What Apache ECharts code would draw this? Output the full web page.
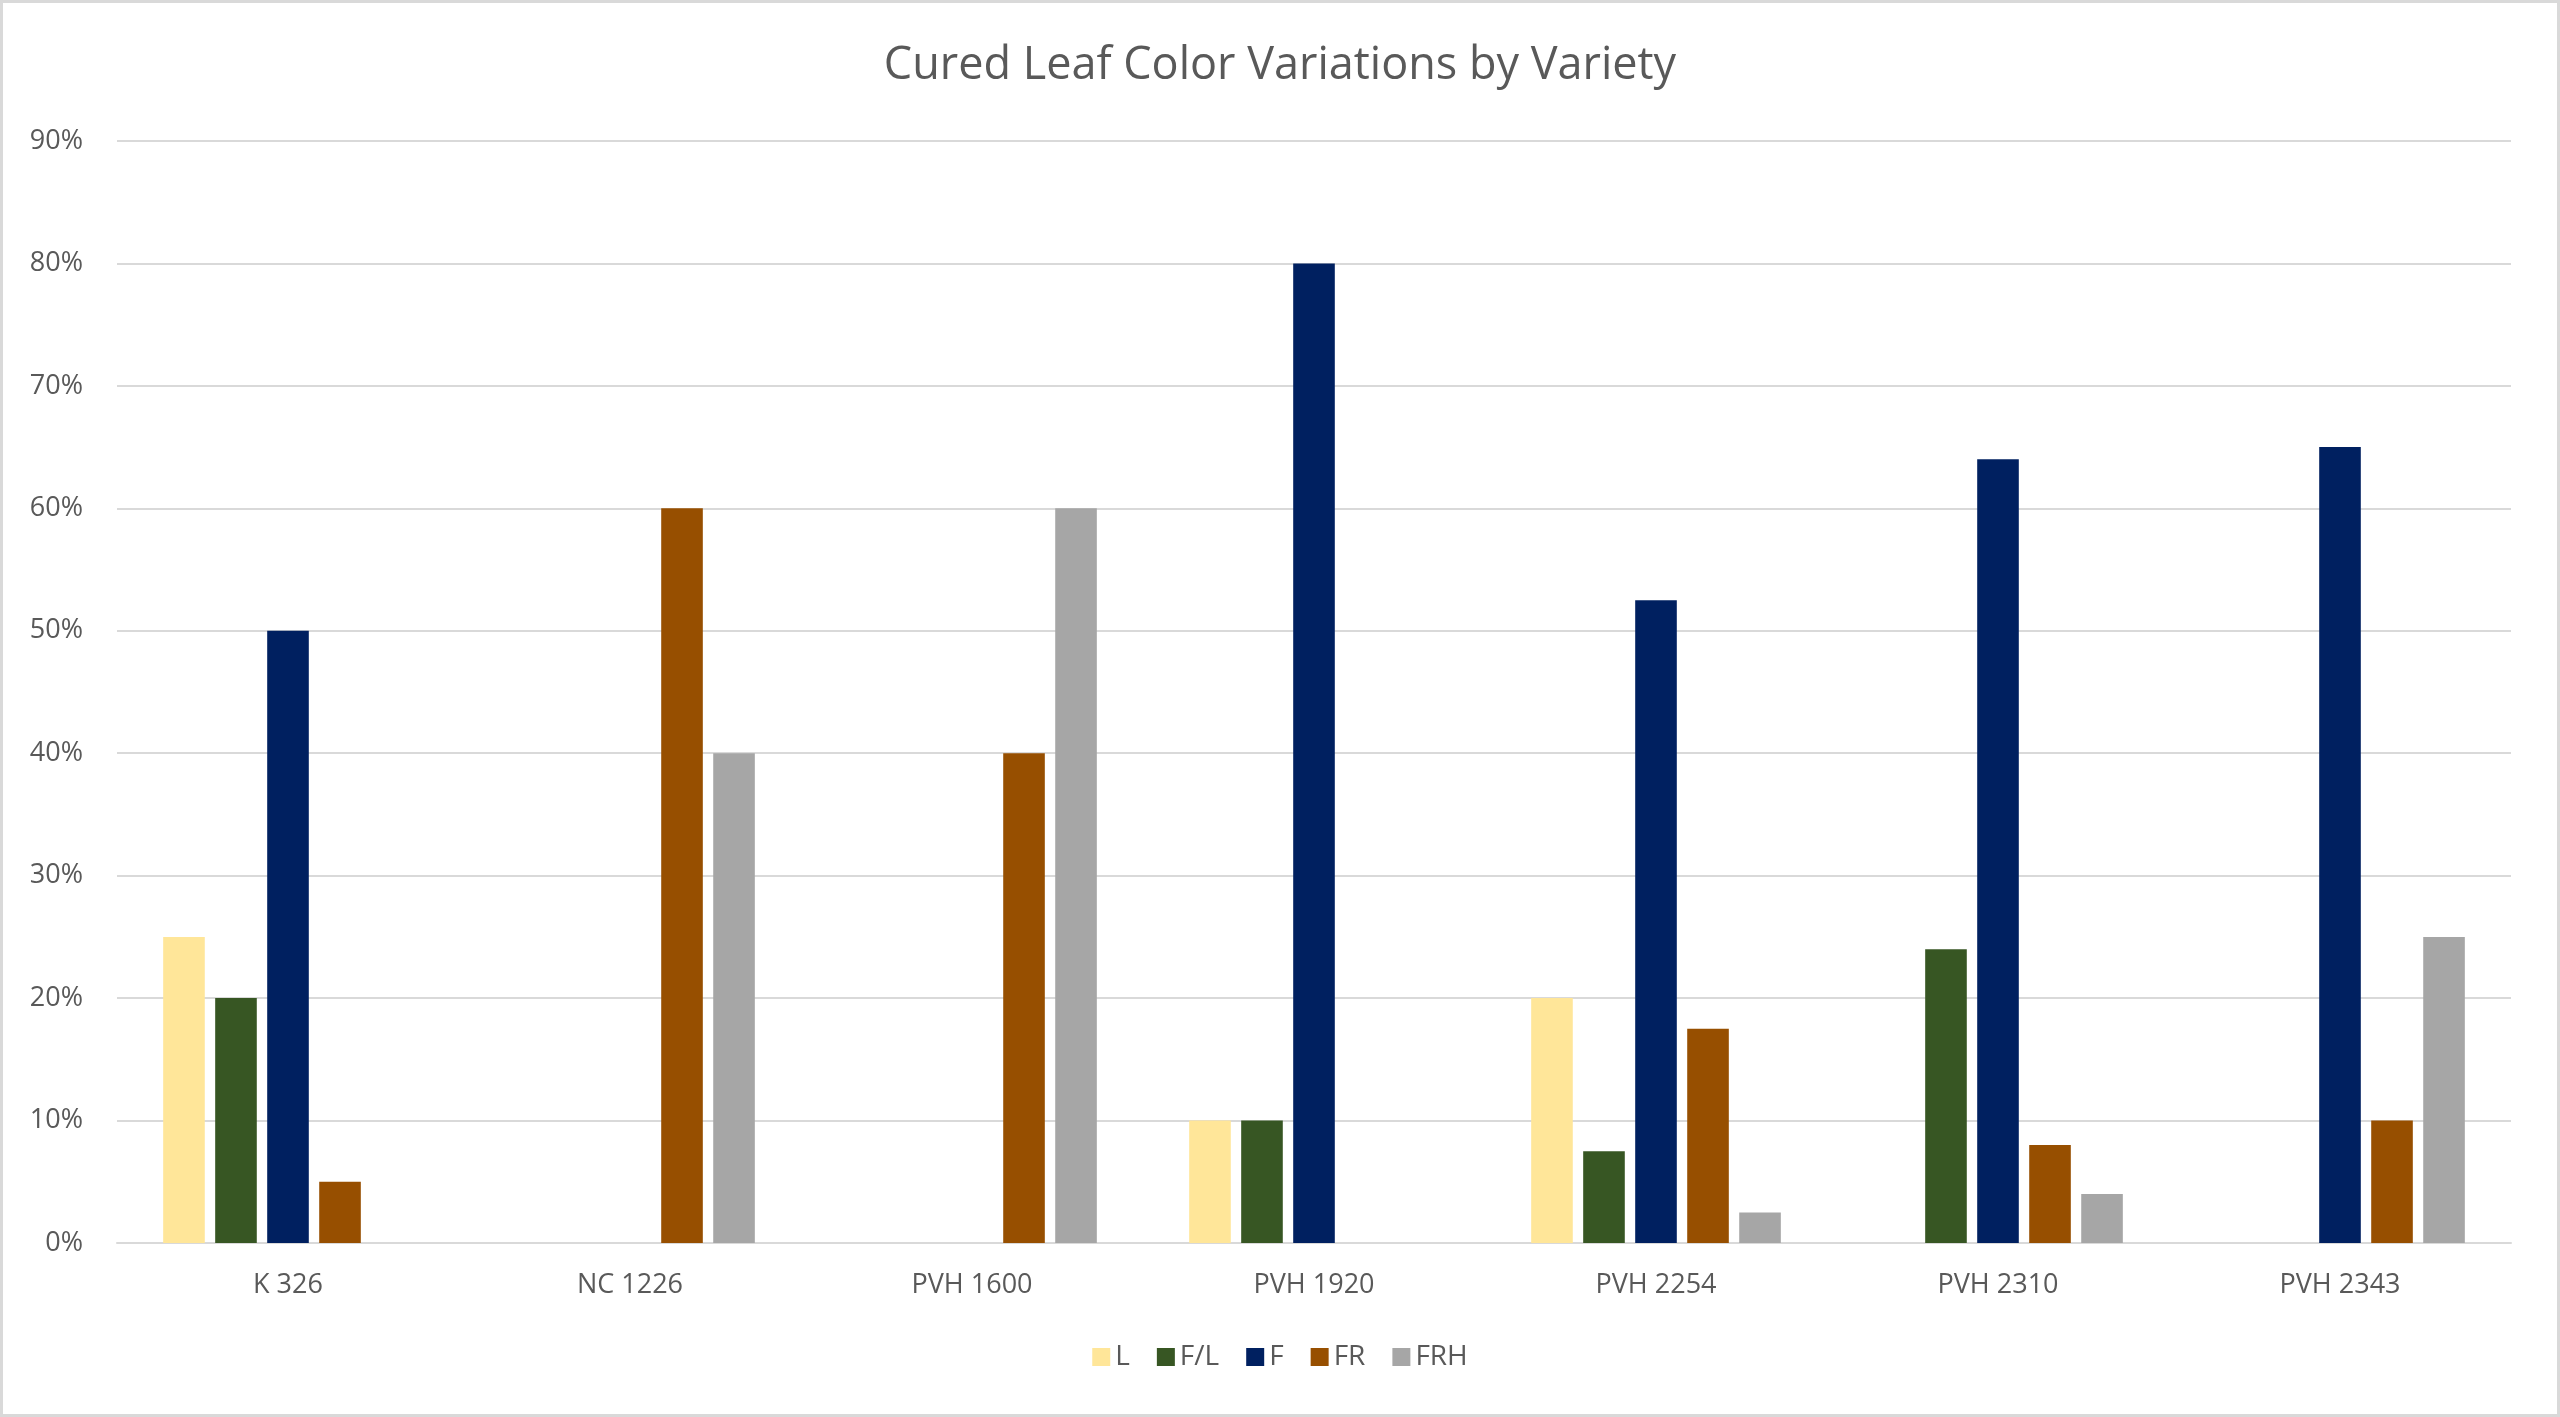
<!DOCTYPE html>
<html>
<head>
<meta charset="utf-8">
<script src="https://cdn.jsdelivr.net/npm/echarts@6/dist/echarts.min.js"></script>
<style>
  html, body { margin: 0; padding: 0; background: #fff; }
  #chartdata { width: 2560px; height: 1417px; box-sizing: border-box; border: 3px solid #d9d9d9; }
</style>
</head>
<body>
<div id="chartdata"></div>
<script>
// varieties on the x axis
var varieties = ['K 326', 'NC 1226', 'PVH 1600', 'PVH 1920', 'PVH 2254', 'PVH 2310', 'PVH 2343']
// percent of cured leaf per colour grade (null = no bar)
var L = [25, null, null, 10, 20, null, null]
var FL = [20, null, null, 10, 7.5, 24, null]
var F = [50, null, null, 80, 52.5, 64, 65]
var FR = [5, 60, 40, null, 17.5, 8, 10]
var FRH = [null, 40, 60, null, 2.5, 4, 25]

var seriesNames = ['L', 'F/L', 'F', 'FR', 'FRH']
var seriesColors = ['#FFE699', '#375623', '#002060', '#974F00', '#A6A6A6']
var seriesData = [L, FL, F, FR, FRH]

var chart = echarts.init(document.getElementById('chartdata'))
var txt = '#595959'
var font = '"Open Sans", "Noto Sans", sans-serif'

var series = []
for (var i = 0; i < seriesNames.length; i++) {
  series.push({
    name: seriesNames[i],
    type: 'bar',
    data: seriesData[i],
    barGap: '25%',
    barCategoryGap: '27%',
    itemStyle: { color: seriesColors[i] }
  })
}

var option = {
  animation: false,
  textStyle: { fontFamily: font },
  title: {
    text: 'Cured Leaf Color Variations by Variety',
    left: 'center',
    top: 36,
    textStyle: { fontSize: 45, fontWeight: 'normal', color: txt, fontFamily: font }
  },
  legend: {
    bottom: 38,
    left: 'center',
    itemWidth: 18,
    itemHeight: 18,
    itemGap: 27,
    icon: 'rect',
    textStyle: { fontSize: 28, color: txt, fontFamily: font },
    data: seriesNames
  },
  grid: {
    left: 114,
    right: 46,
    top: 138,
    bottom: 171,
    containLabel: false
  },
  xAxis: {
    type: 'category',
    data: varieties,
    axisTick: { show: false },
    axisLine: { lineStyle: { color: '#d9d9d9', width: 2 } },
    axisLabel: { fontSize: 27, color: txt, margin: 29, fontFamily: font }
  },
  yAxis: {
    type: 'value',
    min: 0,
    max: 90,
    interval: 10,
    axisLine: { show: false },
    axisTick: { show: false },
    splitLine: { lineStyle: { color: '#d9d9d9', width: 2 } },
    axisLabel: {
      fontSize: 27,
      color: txt,
      margin: 34,
      fontFamily: font,
      formatter: function (v) { return v + '%' }
    }
  },
  series: series
}
chart.setOption(option)
</script>
</body>
</html>
